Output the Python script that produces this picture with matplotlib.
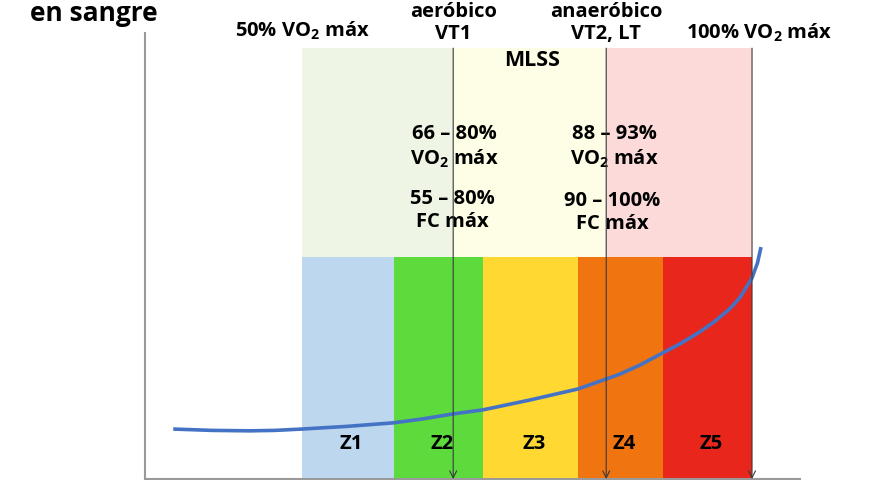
import matplotlib
matplotlib.use("Agg")
import matplotlib.pyplot as plt

plt.rcParams['font.family'] = ['Open Sans', 'DejaVu Sans']
plt.rcParams['font.weight'] = 'bold'
plt.rcParams['mathtext.fontset'] = 'custom'
plt.rcParams['mathtext.rm'] = 'Open Sans:bold'
plt.rcParams['mathtext.default'] = 'rm'

# intensidad en % VO2 max
limites = [50, 60.2, 70.1, 80.7, 90.1, 100]
zonas = ["Z1", "Z2", "Z3", "Z4", "Z5"]
colores_zona = ["#BDD7EE", "#5EDB3C", "#FFD932", "#F07410", "#E8261C"]
alto_zona = 4.97

# fondo claro por encima de las zonas
fondo_lim = [50, 66.8, 83.8, 100]
fondo_col = ["#EEF5E4", "#FEFEE6", "#FCDADA"]
alto_fondo = 9.66

umbrales = [66.8, 83.8, 100]

# curva de lactato en sangre
curva_x = [35.7, 40.0, 44.2, 47.0, 50.0, 55.0, 60.2, 63.5, 66.8, 70.1, 75.3,
           80.7, 85.3, 87.6, 90.1, 92.0, 94.2, 95.9, 97.6, 98.7, 100.0, 100.6, 101.0]
curva_y = [1.12, 1.09, 1.08, 1.09, 1.12, 1.18, 1.26, 1.35, 1.46, 1.55, 1.77,
           2.02, 2.35, 2.56, 2.83, 3.03, 3.30, 3.54, 3.83, 4.08, 4.51, 4.84, 5.20]

fig = plt.figure(figsize=(8.8, 4.8), dpi=100)
ax = fig.add_axes([145/880, 1/480, 655/880, 446/480])

for i in range(len(zonas)):
    ax.bar(limites[i], alto_zona, width=limites[i+1]-limites[i], align='edge',
           color=colores_zona[i], linewidth=0, zorder=1)
    ax.text((limites[i]+limites[i+1])/2 + 0.4, 0.78, zonas[i], ha='center', va='center',
            fontsize=14.5, color='black', zorder=5)

for i in range(len(fondo_col)):
    ax.bar(fondo_lim[i], alto_fondo-alto_zona, bottom=alto_zona,
           width=fondo_lim[i+1]-fondo_lim[i], align='edge',
           color=fondo_col[i], linewidth=0, zorder=0)

for u in umbrales:
    ax.annotate("", xy=(u, 0.0), xytext=(u, alto_fondo),
                arrowprops=dict(arrowstyle='->,head_length=0.5,head_width=0.25',
                                color='#3a3a3a', lw=0.8, shrinkA=0, shrinkB=0),
                zorder=4)

ax.plot(curva_x, curva_y, color='#4472C4', lw=2.6, solid_capstyle='butt', zorder=3)

ax.set_xlim(32.56, 105.33)
ax.set_ylim(0, 10)
ax.set_xticks([])
ax.set_yticks([])
for s in ['top', 'right']:
    ax.spines[s].set_visible(False)
for s in ['left', 'bottom']:
    ax.spines[s].set_color('#9a9a9a')
    ax.spines[s].set_linewidth(1.5)

fs = 14.5
ax.text(26.9, 10.43, "en sangre", ha='center', va='center', fontsize=19, clip_on=False)
ax.text(50, 10.04, "50% VO$_2$ máx", ha='center', va='center', fontsize=fs, clip_on=False)
ax.text(66.8, 10.22, "aeróbico\nVT1", ha='center', va='center', fontsize=fs,
        linespacing=1.15, clip_on=False)
ax.text(83.8, 10.22, "anaeróbico\nVT2, LT", ha='center', va='center', fontsize=fs,
        linespacing=1.15, clip_on=False)
ax.text(100.8, 10.0, "100% VO$_2$ máx", ha='center', va='center', fontsize=fs, clip_on=False)
ax.text(75.6, 9.39, "MLSS", ha='center', va='center', fontsize=15.5)
ax.text(66.9, 7.45, "66 – 80%\nVO$_2$ máx", ha='center', va='center', fontsize=fs, linespacing=1.2)
ax.text(66.7, 6.02, "55 – 80%\nFC máx", ha='center', va='center', fontsize=fs, linespacing=1.2)
ax.text(84.7, 7.45, "88 – 93%\nVO$_2$ máx", ha='center', va='center', fontsize=fs, linespacing=1.2)
ax.text(84.5, 5.97, "90 – 100%\nFC máx", ha='center', va='center', fontsize=fs, linespacing=1.2)

fig.savefig("out.png", dpi=100)
